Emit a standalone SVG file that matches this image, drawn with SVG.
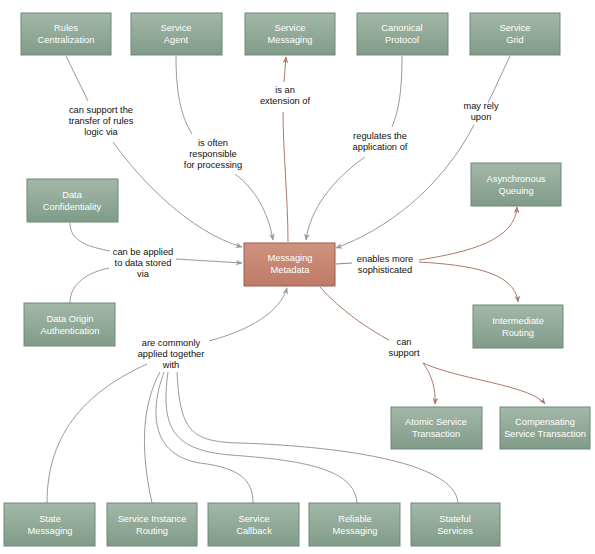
<svg xmlns="http://www.w3.org/2000/svg" width="595" height="554" viewBox="0 0 595 554">
<defs>
<linearGradient id="g" x1="0" y1="0" x2="0" y2="1">
<stop offset="0" stop-color="#a2b8a8"/>
<stop offset="1" stop-color="#819b89"/>
</linearGradient>
<linearGradient id="r" x1="0" y1="0" x2="0" y2="1">
<stop offset="0" stop-color="#d0937f"/>
<stop offset="1" stop-color="#bd7a67"/>
</linearGradient>
<marker id="ag" viewBox="0 0 10 10" refX="9" refY="5" markerWidth="7" markerHeight="7" markerUnits="userSpaceOnUse" orient="auto">
<path d="M0,1 L10,5 L0,9 L3,5 Z" fill="#999"/>
</marker>
<marker id="ab" viewBox="0 0 10 10" refX="9" refY="5" markerWidth="7" markerHeight="7" markerUnits="userSpaceOnUse" orient="auto">
<path d="M0,1 L10,5 L0,9 L3,5 Z" fill="#b07868"/>
</marker>
</defs>
<style>
.n rect{fill:url(#g);stroke:#6f8878;stroke-width:1}
.n text{fill:#fff;font-family:"Liberation Sans","Open Sans",sans-serif;font-size:9.3px;text-anchor:middle}
#metadata rect{fill:url(#r);stroke:#9a5e4e}
.c path{fill:none;stroke-width:1}
.c .g{stroke:#999}
.c .b{stroke:#b07868}
.l text{fill:#111;font-family:"Liberation Sans","Open Sans",sans-serif;font-size:9.3px;text-anchor:middle}
</style>
<rect width="595" height="554" fill="#fff"/>

<g class="c" id="connectors">
<!-- rules centralization -->
<path class="g" d="M66,56 L88,101"/>
<path class="g" d="M113,142 C140,180 190,232 242,247" marker-end="url(#ag)"/>
<!-- service agent -->
<path class="g" d="M176,56 C176,90 180,115 192,134"/>
<path class="g" d="M235,174 C256,190 268,212 273,240" marker-end="url(#ag)"/>
<!-- service messaging -->
<path class="b" d="M288,242 C288,200 283,150 283,112"/>
<path class="b" d="M284,82 L286,57" marker-end="url(#ab)"/>
<!-- canonical protocol -->
<path class="g" d="M402,56 C402,90 399,110 392,127"/>
<path class="g" d="M365,157 C332,180 310,210 306,240" marker-end="url(#ag)"/>
<!-- service grid -->
<path class="g" d="M510,56 L488,103"/>
<path class="g" d="M474,125 C440,190 385,230 336,248" marker-end="url(#ag)"/>
<!-- data -->
<path class="g" d="M70,223 C70,242 90,247 110,251"/>
<path class="g" d="M70,303 C70,282 90,272 109,268"/>
<path class="g" d="M176,259 L242,263" marker-end="url(#ag)"/>
<!-- commonly applied -->
<path class="g" d="M209,341 C250,330 280,312 287,288" marker-end="url(#ag)"/>
<path class="g" d="M147,364 C90,390 47,430 47,503"/>
<path class="g" d="M160,372 C145,400 138,440 152,503"/>
<path class="g" d="M164,372 C150,410 150,455 200,463 C240,468 253,480 253,503"/>
<path class="g" d="M168,372 C160,430 175,450 230,455 C300,460 355,468 357,503"/>
<path class="g" d="M177,372 C180,430 190,442 240,443 C330,446 455,460 458,503"/>
<!-- enables more sophisticated -->
<path class="b" d="M336,264 L352,263"/>
<path class="b" d="M419,260 C470,252 515,240 517,207" marker-end="url(#ab)"/>
<path class="b" d="M419,262 C470,265 515,272 518,302" marker-end="url(#ab)"/>
<!-- can support -->
<path class="b" d="M320,287 C340,310 370,330 389,340"/>
<path class="b" d="M423,363 C432,375 436,390 435,404" marker-end="url(#ab)"/>
<path class="b" d="M423,363 C460,380 530,385 545,404" marker-end="url(#ab)"/>
</g>

<g class="l" id="labels">
<text x="101" y="113">can support the</text>
<text x="101" y="124">transfer of rules</text>
<text x="101" y="135">logic via</text>
<text x="213" y="146">is often</text>
<text x="213" y="157">responsible</text>
<text x="213" y="168">for processing</text>
<text x="285" y="93">is an</text>
<text x="285" y="104">extension of</text>
<text x="380" y="139">regulates the</text>
<text x="380" y="150">application of</text>
<text x="481" y="109">may rely</text>
<text x="481" y="120">upon</text>
<text x="143" y="255">can be applied</text>
<text x="143" y="266">to data stored</text>
<text x="143" y="277">via</text>
<text x="171" y="346">are commonly</text>
<text x="171" y="357">applied together</text>
<text x="171" y="368">with</text>
<text x="385" y="262">enables more</text>
<text x="385" y="273">sophisticated</text>
<text x="404" y="345">can</text>
<text x="404" y="356">support</text>
</g>

<g class="n" id="rules-centralization"><rect x="21" y="13" width="90" height="42"/><text x="66" y="31">Rules</text><text x="66" y="43">Centralization</text></g>
<g class="n" id="service-agent"><rect x="131" y="13" width="91" height="42"/><text x="176" y="31">Service</text><text x="176" y="43">Agent</text></g>
<g class="n" id="service-messaging"><rect x="245" y="13" width="90" height="42"/><text x="290" y="31">Service</text><text x="290" y="43">Messaging</text></g>
<g class="n" id="canonical-protocol"><rect x="357" y="13" width="91" height="42"/><text x="402" y="31">Canonical</text><text x="402" y="43">Protocol</text></g>
<g class="n" id="service-grid"><rect x="470" y="13" width="90" height="42"/><text x="515" y="31">Service</text><text x="515" y="43">Grid</text></g>
<g class="n" id="data-confidentiality"><rect x="27" y="179" width="91" height="43"/><text x="72" y="198">Data</text><text x="72" y="210">Confidentiality</text></g>
<g class="n" id="data-origin-authentication"><rect x="24" y="303" width="91" height="43"/><text x="70" y="322">Data Origin</text><text x="70" y="334">Authentication</text></g>
<g class="n" id="metadata"><rect x="244" y="243" width="91" height="43"/><text x="290" y="261">Messaging</text><text x="290" y="273">Metadata</text></g>
<g class="n" id="asynchronous-queuing"><rect x="471" y="163" width="90" height="43"/><text x="516" y="182">Asynchronous</text><text x="516" y="194">Queuing</text></g>
<g class="n" id="intermediate-routing"><rect x="473" y="305" width="90" height="43"/><text x="518" y="324">Intermediate</text><text x="518" y="336">Routing</text></g>
<g class="n" id="atomic-service-transaction"><rect x="391" y="407" width="91" height="42"/><text x="436" y="425">Atomic Service</text><text x="436" y="437">Transaction</text></g>
<g class="n" id="compensating-service-transaction"><rect x="500" y="407" width="90" height="42"/><text x="545" y="425">Compensating</text><text x="545" y="437">Service Transaction</text></g>
<g class="n" id="state-messaging"><rect x="4" y="503" width="91" height="43"/><text x="50" y="522">State</text><text x="50" y="534">Messaging</text></g>
<g class="n" id="service-instance-routing"><rect x="107" y="503" width="90" height="43"/><text x="152" y="522">Service Instance</text><text x="152" y="534">Routing</text></g>
<g class="n" id="service-callback"><rect x="208" y="503" width="91" height="43"/><text x="254" y="522">Service</text><text x="254" y="534">Callback</text></g>
<g class="n" id="reliable-messaging"><rect x="309" y="503" width="91" height="43"/><text x="355" y="522">Reliable</text><text x="355" y="534">Messaging</text></g>
<g class="n" id="stateful-services"><rect x="411" y="503" width="89" height="43"/><text x="455" y="522">Stateful</text><text x="455" y="534">Services</text></g>
</svg>
